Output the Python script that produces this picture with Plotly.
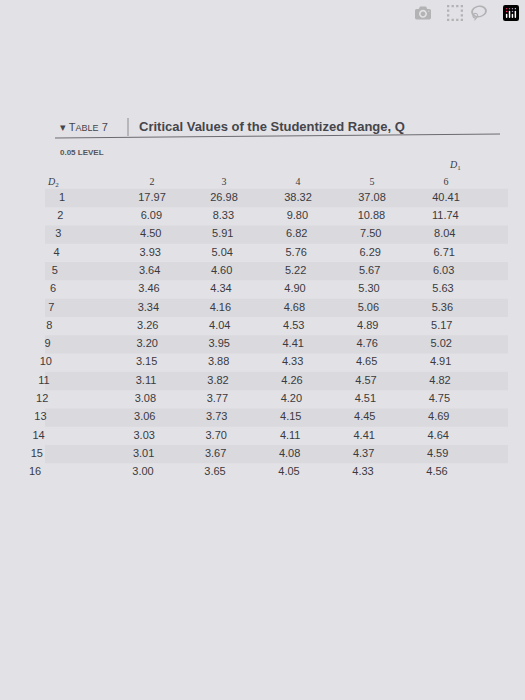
import plotly.graph_objects as go

# Studentized range Q, 0.05 level
df_rows = list(range(1, 17))
k_cols = ["2", "3", "4", "5", "6"]
q2 = ["17.97", "6.09", "4.50", "3.93", "3.64", "3.46", "3.34", "3.26", "3.20", "3.15", "3.11", "3.08", "3.06", "3.03", "3.01", "3.00"]
q3 = ["26.98", "8.33", "5.91", "5.04", "4.60", "4.34", "4.16", "4.04", "3.95", "3.88", "3.82", "3.77", "3.73", "3.70", "3.67", "3.65"]
q4 = ["38.32", "9.80", "6.82", "5.76", "5.22", "4.90", "4.68", "4.53", "4.41", "4.33", "4.26", "4.20", "4.15", "4.11", "4.08", "4.05"]
q5 = ["37.08", "10.88", "7.50", "6.29", "5.67", "5.30", "5.06", "4.89", "4.76", "4.65", "4.57", "4.51", "4.45", "4.41", "4.37", "4.33"]
q6 = ["40.41", "11.74", "8.04", "6.71", "6.03", "5.63", "5.36", "5.17", "5.02", "4.91", "4.82", "4.75", "4.69", "4.64", "4.59", "4.56"]
columns = [q2, q3, q4, q5, q6]

col_x = [152, 224, 298, 372, 446]
row0, step = 198, 18.3
font = "Liberation Sans"
ink = "#3a3a40"

fig = go.Figure()

# shaded bands on odd rows
shapes = []
for i, d in enumerate(df_rows):
    if d % 2 == 1:
        y = row0 + i * step
        shapes.append(dict(type="rect", x0=45, x1=508, y0=y - step / 2, y1=y + step / 2,
                           fillcolor="#d9d9de", line_width=0, layer="below"))
shapes.append(dict(type="line", x0=55, x1=500, y0=138, y1=134, line=dict(color="#6a6a70", width=1)))
shapes.append(dict(type="line", x0=128, x1=128, y0=118, y1=136, line=dict(color="#8a8a90", width=1)))

# row labels
fig.add_trace(go.Scatter(x=[62 - i * 1.8 for i in range(len(df_rows))],
                         y=[row0 + i * step for i in range(len(df_rows))],
                         text=[str(d) for d in df_rows], mode="text",
                         textfont=dict(family=font, size=11, color=ink), hoverinfo="skip"))
# header
fig.add_trace(go.Scatter(x=col_x, y=[182] * len(k_cols), text=k_cols, mode="text",
                         textfont=dict(family="Liberation Serif", size=10, color=ink), hoverinfo="skip"))
# values
for cx, vals in zip(col_x, columns):
    fig.add_trace(go.Scatter(x=[cx - i * 0.6 for i in range(len(vals))],
                             y=[row0 + i * step for i in range(len(vals))],
                             text=vals, mode="text",
                             textfont=dict(family=font, size=11, color=ink), hoverinfo="skip"))

annotations = [
    dict(x=58, y=127, text="▾ T<span style='font-size:9px'>ABLE</span> 7", showarrow=False,
         xanchor="left", font=dict(family=font, size=11, color="#45454b")),
    dict(x=137, y=126, text="<b>Critical Values of the Studentized Range, Q</b>", showarrow=False,
         xanchor="left", font=dict(family=font, size=13, color="#45454b")),
    dict(x=58, y=152, text="<b>0.05 LEVEL</b>", showarrow=False, xanchor="left",
         font=dict(family=font, size=8, color="#55555b")),
    dict(x=455, y=165, text="<i>D</i><sub>1</sub>", showarrow=False,
         font=dict(family="Liberation Serif", size=10, color=ink)),
    dict(x=53, y=182, text="<i>D</i><sub>2</sub>", showarrow=False,
         font=dict(family="Liberation Serif", size=10, color=ink)),
]

fig.update_layout(
    width=525, height=700, margin=dict(l=0, r=0, t=0, b=0),
    paper_bgcolor="#e2e2e6", plot_bgcolor="#e2e2e6", showlegend=False,
    xaxis=dict(range=[0, 525], visible=False, fixedrange=True),
    yaxis=dict(range=[700, 0], visible=False, fixedrange=True),
    shapes=shapes, annotations=annotations,
)

fig.write_html("out.html", post_script="document.body.style.margin='0';")
